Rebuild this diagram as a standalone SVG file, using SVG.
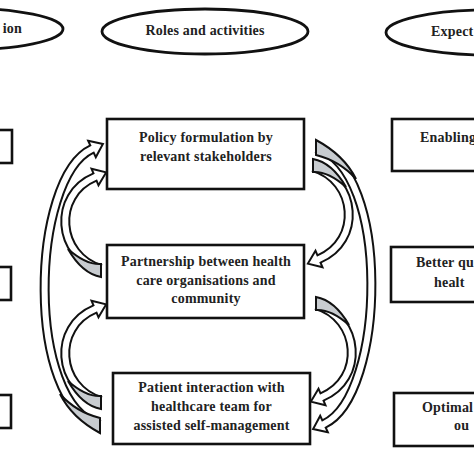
<svg xmlns="http://www.w3.org/2000/svg" width="474" height="474" viewBox="0 0 474 474">
<style>
.bx{fill:#fff;stroke:#111;stroke-width:2.6}
.el{fill:#fff;stroke:#111;stroke-width:2.8}
.t{font-family:"Liberation Serif","Times New Roman",serif;font-weight:bold;font-size:14px;letter-spacing:0.2px;fill:#222}
.m{text-anchor:middle}
.bk{fill:none;stroke:#111;stroke-width:10}
.wt{fill:none;stroke:#fff;stroke-width:6;stroke-linecap:square}
.hd{fill:#fff;stroke:#111;stroke-width:2}
.cr{fill:#c8ccd0;stroke:#111;stroke-width:2}
</style>
<defs>
<path id="cs" d="M101,269 C57,256 52,195 95,177"/>
<path id="cb" d="M100,425 C25,405 30,178 92,149"/>
<g id="as">
<use href="#cs" class="bk"/>
<polygon class="hd" points="91.5,168.7 106.1,172.4 98.5,185.3"/>
<use href="#cs" class="wt"/>
<path class="cr" d="M68,249 Q82,273.5 101,277 L101,264 Q86,265 68,249 Z"/>
</g>
<g id="ab">
<use href="#cb" class="bk"/>
<polygon class="hd" points="88.2,140.8 102.9,143.9 95.8,157.2"/>
<use href="#cb" class="wt"/>
<path class="cr" d="M60,394 Q72,418 100,433 L100,418 Q76,412 60,394 Z"/>
</g>
</defs>
<rect width="474" height="474" fill="#fff"/>
<g id="connectors">
<use href="#ab"/>
<use href="#as"/>
<use href="#as" transform="translate(0,132)"/>
<use href="#ab" transform="rotate(180 208 286.5)"/>
<use href="#as" transform="rotate(180 207 218)"/>
<use href="#as" transform="rotate(180 208.5 287)"/>
</g>
<g id="header-left"><ellipse class="el" cx="-40" cy="29" rx="103" ry="21"/><text class="t" x="22" y="33" text-anchor="end">ion</text></g>
<g id="header-roles"><ellipse class="el" cx="205" cy="31.5" rx="103" ry="22.5"/><text class="t m" x="205" y="35">Roles and activities</text></g>
<g id="header-right"><ellipse class="el" cx="489" cy="32.5" rx="103" ry="22.5"/><text class="t" x="431" y="36">Expect</text></g>
<g id="left-box-1"><rect class="bx" x="-60" y="130" width="72" height="33"/></g>
<g id="left-box-2"><rect class="bx" x="-60" y="267" width="71" height="33"/></g>
<g id="left-box-3"><rect class="bx" x="-60" y="395" width="71" height="33"/></g>
<g id="policy"><rect class="bx" x="107" y="119" width="197" height="70"/><text class="t m" x="206" y="142">Policy formulation by</text><text class="t m" x="206" y="161">relevant stakeholders</text></g>
<g id="partnership"><rect class="bx" x="107" y="245" width="197" height="73"/><text class="t m" x="206" y="266">Partnership between health</text><text class="t m" x="206" y="284.5">care organisations and</text><text class="t m" x="206" y="303">community</text></g>
<g id="patient"><rect class="bx" x="113" y="373" width="197" height="71"/><text class="t m" x="211.5" y="392">Patient interaction with</text><text class="t m" x="211.5" y="411">healthcare team for</text><text class="t m" x="211.5" y="430">assisted self-management</text></g>
<g id="enabling"><rect class="bx" x="392" y="119" width="120" height="52"/><text class="t" x="420" y="142">Enabling</text></g>
<g id="better"><rect class="bx" x="391" y="247" width="120" height="55"/><text class="t" x="416" y="267">Better qu</text><text class="t" x="434" y="287">healt</text></g>
<g id="optimal"><rect class="bx" x="394" y="393" width="120" height="53"/><text class="t" x="422" y="412">Optimal</text><text class="t" x="454" y="430">ou</text></g>
</svg>
